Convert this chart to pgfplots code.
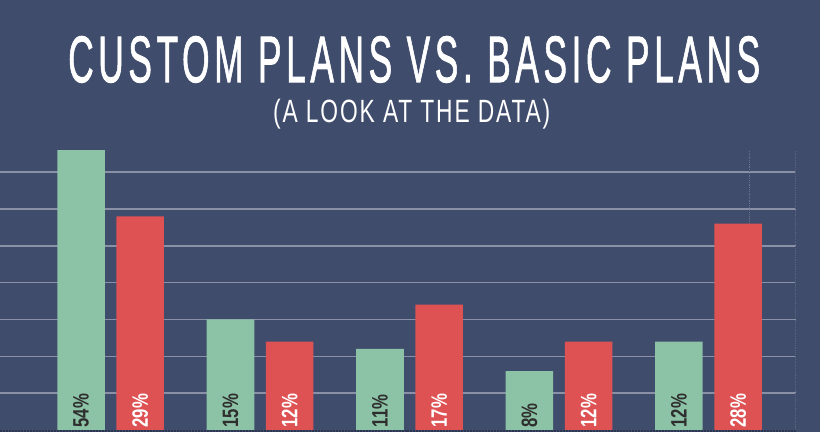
\documentclass[border=0pt]{standalone}
\usepackage{fontspec}
\setmainfont{Liberation Sans}
\newfontfamily\titlefont{Liberation Sans}[LetterSpace=13, FakeBold=1.5]
\newfontfamily\subfont{Liberation Sans}[LetterSpace=8]
\usepackage{graphicx}
\usepackage{pgfplots}
\pgfplotsset{compat=1.18}

\definecolor{bg}{HTML}{404C6C}
\definecolor{bargreen}{HTML}{8CC2A5}
\definecolor{barred}{HTML}{DE5254}
\definecolor{gridc}{HTML}{8A91A6}
\definecolor{labdark}{HTML}{2E2E2E}
\definecolor{basec}{HTML}{2C3550}

\begin{document}
\begin{tikzpicture}
\fill[bg] (0,0) rectangle (820bp,432bp);
\node[anchor=south west, inner sep=0pt, text=white] at (68bp,349bp)
  {\resizebox{692bp}{46bp}{\titlefont CUSTOM PLANS VS. BASIC PLANS}};
\node[anchor=south west, inner sep=0pt, text=white] at (273bp,303bp)
  {\resizebox*{277bp}{30bp}{\subfont (A LOOK AT THE DATA)}};
\begin{axis}[
  at={(0bp,2bp)}, anchor=south west,
  scale only axis, width=796bp, height=279.3bp,
  xmin=-0.74, xmax=4.585, ymin=0, ymax=37.9,
  axis line style={draw=none},
  ytick={5,10,...,35}, yticklabels={}, xtick=\empty,
  major tick length=0pt,
  ymajorgrids, grid style={gridc, line width=1.5bp},
]
\addplot[gridc!55!bg, line width=0.8bp, densely dotted] coordinates {(4.271,27) (4.271,37.9)};
\addplot[gridc!35!bg, line width=0.8bp, densely dotted] coordinates {(4.583,0) (4.583,37.9)};
\addplot[ybar, bar width=0.318, bar shift=0pt, fill=bargreen, draw=none]
  coordinates {(-0.198,54) (0.802,15) (1.802,11) (2.802,8) (3.802,12)};
\addplot[ybar, bar width=0.318, bar shift=0pt, fill=barred, draw=none]
  coordinates {(0.198,29) (1.198,12) (2.198,17) (3.198,12) (4.198,28)};
\addplot[draw=none, mark=none, point meta=explicit symbolic,
  nodes near coords={\rotatebox{90}{\scalebox{0.75}[1]{\pgfplotspointmeta}}},
  nodes near coords style={anchor=south, inner sep=0pt, inner ysep=2.5bp,
    text=labdark, font=\fontsize{22.3bp}{24bp}\selectfont\bfseries}]
  coordinates {(-0.198,0) [54\%] (0.802,0) [15\%] (1.802,0) [11\%] (2.802,0) [8\%] (3.802,0) [12\%]};
\addplot[draw=none, mark=none, point meta=explicit symbolic,
  nodes near coords={\rotatebox{90}{\scalebox{0.75}[1]{\pgfplotspointmeta}}},
  nodes near coords style={anchor=south, inner sep=0pt, inner ysep=2.5bp,
    text=white, font=\fontsize{22.3bp}{24bp}\selectfont\bfseries}]
  coordinates {(0.198,0) [29\%] (1.198,0) [12\%] (2.198,0) [17\%] (3.198,0) [12\%] (4.198,0) [28\%]};
\end{axis}
\draw[basec, line width=2bp, densely dotted] (0,1bp) -- (796bp,1bp);
\pgfresetboundingbox
\useasboundingbox (0,0) rectangle (820bp,432bp);
\end{tikzpicture}
\end{document}
